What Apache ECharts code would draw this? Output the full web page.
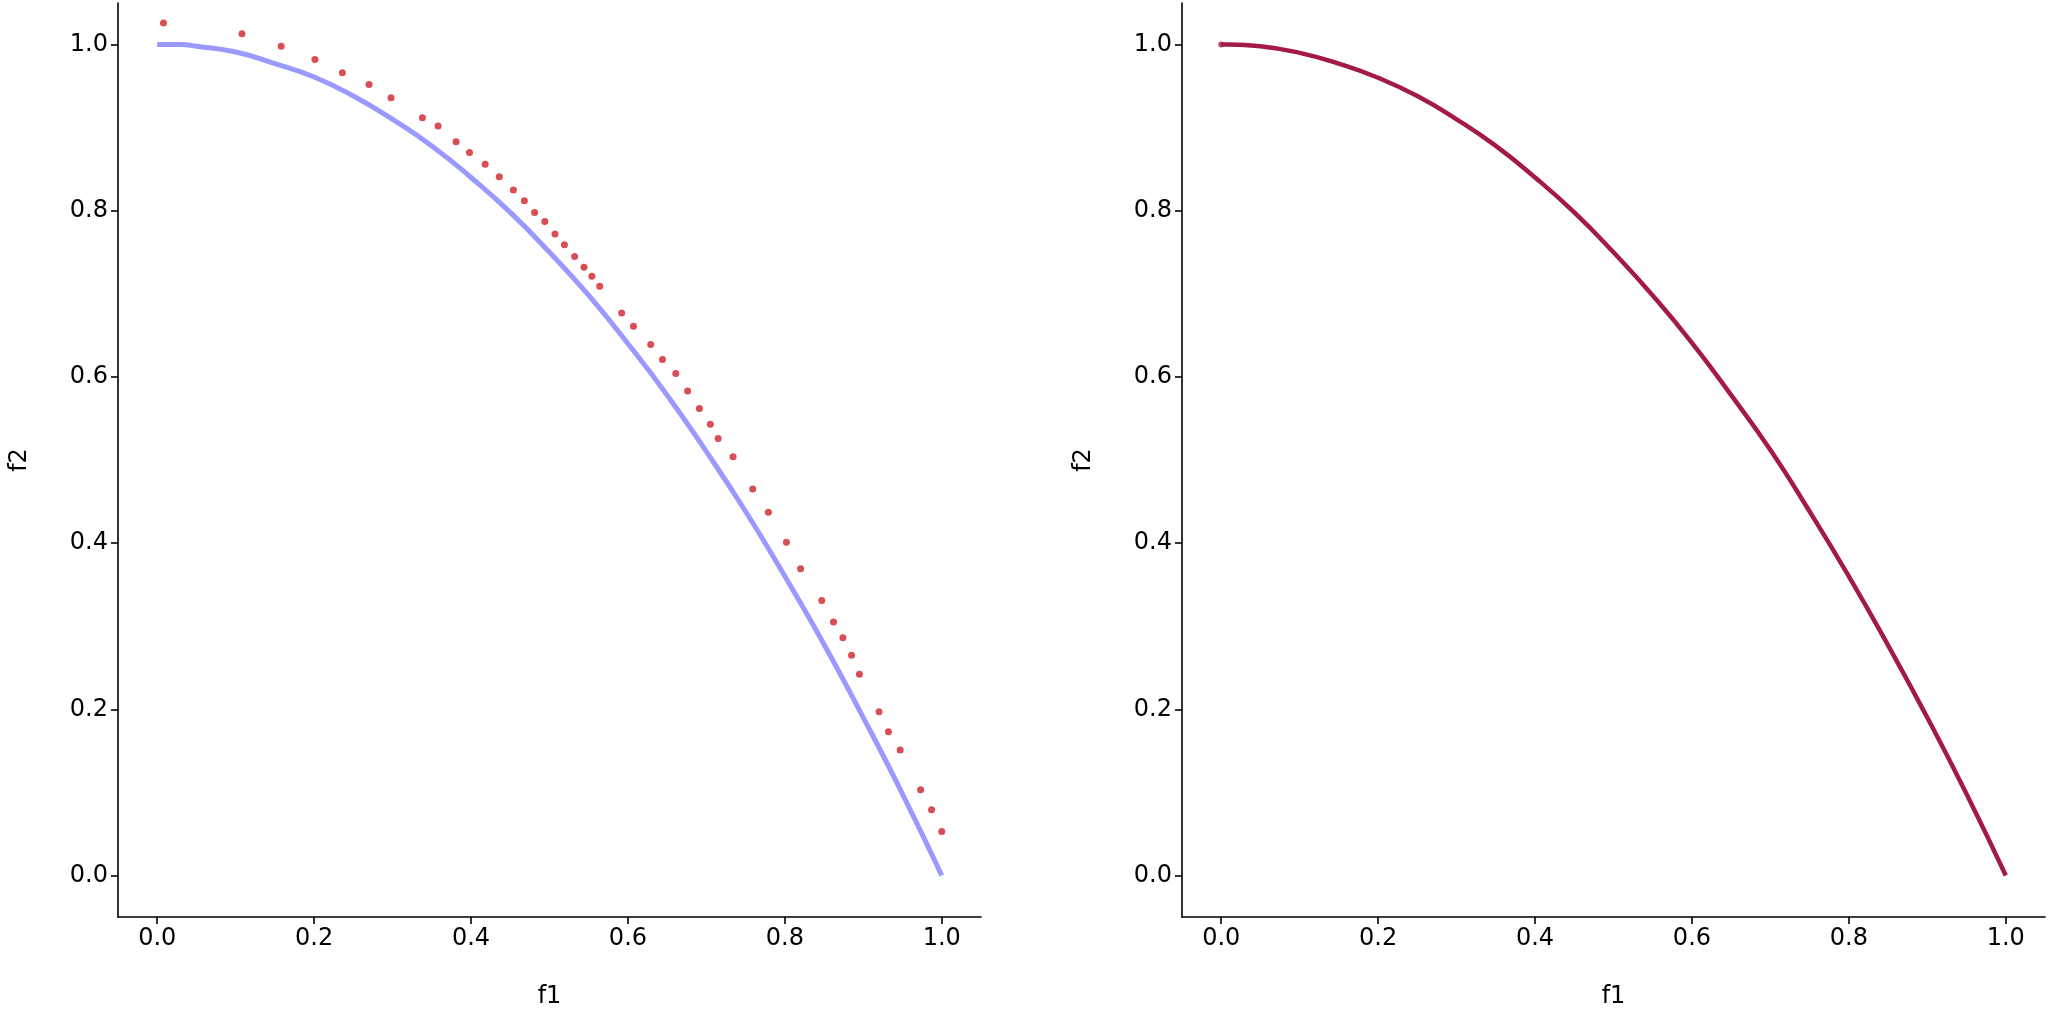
<!DOCTYPE html>
<html><head><meta charset="utf-8">
<script src="https://cdn.jsdelivr.net/npm/echarts@6/dist/echarts.min.js"></script>
<style>html,body{margin:0;background:#fff}#c{width:2048px;height:1014px}</style>
</head><body><div id="c"></div>
<script>
const tickValues = [0, 0.2, 0.4, 0.6, 0.8, 1.0];
const blueX = [0,0.03,0.05,0.1,0.15,0.2,0.25,0.3,0.35,0.4,0.45,0.5,0.55,0.6,0.65,0.7,0.75,0.8,0.85,0.9,0.95,1.0];
const blueY = [1.0,1.0,0.998,0.991,0.977,0.961,0.938,0.910,0.878,0.840,0.798,0.750,0.698,0.640,0.578,0.510,0.438,0.360,0.278,0.190,0.098,0.0];
const redX = [0.008,0.108,0.158,0.201,0.236,0.270,0.298,0.338,0.358,0.381,0.398,0.418,0.436,0.454,0.468,0.481,0.494,0.507,0.519,0.532,0.544,0.554,0.564,0.592,0.607,0.629,0.644,0.661,0.676,0.691,0.705,0.715,0.734,0.759,0.779,0.802,0.820,0.847,0.862,0.874,0.885,0.895,0.920,0.932,0.947,0.973,0.987,1.000];
const redY = [1.026,1.013,0.998,0.982,0.966,0.952,0.936,0.912,0.902,0.883,0.870,0.856,0.841,0.825,0.812,0.798,0.787,0.772,0.759,0.745,0.732,0.721,0.709,0.677,0.661,0.639,0.621,0.604,0.583,0.562,0.543,0.526,0.504,0.465,0.437,0.401,0.369,0.331,0.305,0.286,0.265,0.242,0.197,0.173,0.151,0.103,0.079,0.053];
const rightX = [0,0.01,0.05,0.1,0.15,0.2,0.25,0.3,0.35,0.4,0.45,0.5,0.55,0.6,0.65,0.7,0.75,0.8,0.85,0.9,0.95,1.0];
const rightY = [1.0,1.0,0.998,0.990,0.977,0.960,0.938,0.910,0.878,0.840,0.798,0.750,0.698,0.641,0.578,0.512,0.438,0.360,0.277,0.190,0.098,0.0];

const zip = (a,b)=>a.map((v,i)=>[v,b[i]]);
const lab = {fontSize:24, color:'#000', fontFamily:'DejaVu Sans', customValues:tickValues, formatter:v=>v.toFixed(1), margin:10};
function ax(idx, name, isY){
  return {type:'value', gridIndex:idx, min:-0.05, max:1.05, name:name, nameLocation:'middle',
    nameGap: isY?86:68, nameTextStyle:{fontSize:24,color:'#000',fontFamily:'DejaVu Sans'},
    axisLine:{show:true,onZero:false,lineStyle:{color:'#000',width:1.6}},
    axisTick:{show:true,customValues:tickValues,length:7,lineStyle:{color:'#000',width:1.6}},
    axisLabel:lab, splitLine:{show:false}};
}
const chart = echarts.init(document.getElementById('c'));
chart.setOption({
  animation:false,
  grid:[{left:118,top:3,width:863,height:919},{left:1182,top:3,width:863,height:919}],
  xAxis:[ax(0,'f1',false),ax(1,'f1',false)],
  yAxis:[ax(0,'f2',true),ax(1,'f2',true)],
  series:[
    {type:'line',xAxisIndex:0,yAxisIndex:0,data:zip(blueX,blueY),smooth:true,showSymbol:false,lineStyle:{color:'#9999ff',width:5}},
    {type:'scatter',xAxisIndex:0,yAxisIndex:0,data:zip(redX,redY),symbolSize:7,itemStyle:{color:'#d0202a'}},
    {type:'line',xAxisIndex:1,yAxisIndex:1,data:zip(rightX,rightY),smooth:true,showSymbol:false,lineStyle:{color:'#a31a4a',width:4.5}},
    {type:'scatter',xAxisIndex:1,yAxisIndex:1,data:[[0,1]],symbolSize:6,itemStyle:{color:'#a31a4a'}}
  ]
});
</script></body></html>
